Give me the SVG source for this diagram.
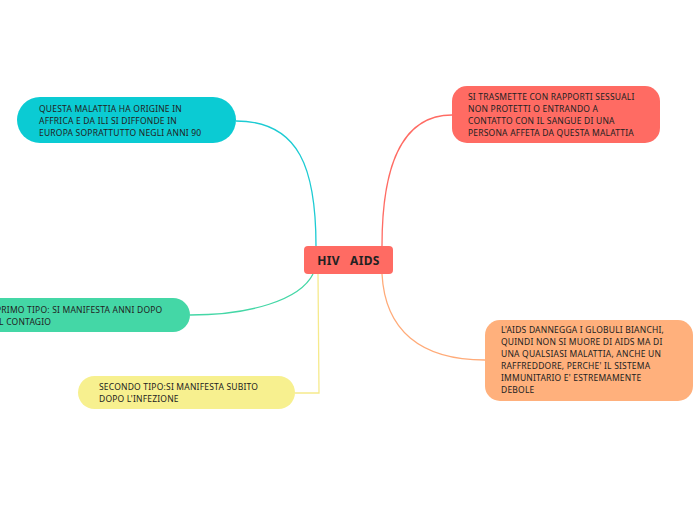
<svg xmlns="http://www.w3.org/2000/svg" width="696" height="520" viewBox="0 0 696 520">
<style>
text{font-family:"Noto Sans","Open Sans",sans-serif;font-size:8.5px;letter-spacing:0.2px;fill:#222}
.c{fill:none;stroke-width:1.3}
.t{font-size:12px;font-weight:bold;fill:#222;letter-spacing:0.3px}
</style>
<rect width="696" height="520" fill="#fff"/>
<g id="connectors">
<path class="c" stroke="#1ccbd3" d="M316,246 C316,170 300,121 236,121"/>
<path class="c" stroke="#ff6b63" d="M382,246 C382,170 400,115 452,115"/>
<path class="c" stroke="#ffab79" d="M382,274 C385,330 420,360 485,360"/>
<path class="c" stroke="#44d7a6" d="M313,274 C300,300 250,315 190,315"/>
<path class="c" stroke="#f6ea8c" d="M318,274 L319,393 L295,393"/>
</g>
<g id="center"><rect x="304" y="246" width="89" height="28" rx="4" fill="#ff6b63"/><text class="t" x="348.5" y="265" text-anchor="middle" xml:space="preserve">HIV   AIDS</text></g>
<g id="n1"><rect x="17" y="97" width="219" height="46" rx="23" fill="#0bcbd3"/>
<text x="39" y="112">QUESTA MALATTIA HA ORIGINE IN</text><text x="39" y="124">AFFRICA E DA ILI SI DIFFONDE IN</text><text x="39" y="136">EUROPA SOPRATTUTTO NEGLI ANNI 90</text></g>
<g id="n2"><rect x="452" y="86" width="208" height="57" rx="15" fill="#ff6b63"/>
<text x="468" y="100">SI TRASMETTE CON RAPPORTI SESSUALI</text><text x="468" y="112">NON PROTETTI O ENTRANDO A</text><text x="468" y="124">CONTATTO CON IL SANGUE DI UNA</text><text x="468" y="136">PERSONA AFFETA DA QUESTA MALATTIA</text></g>
<g id="n3"><rect x="485" y="320" width="208" height="81" rx="15" fill="#ffb07c"/>
<text x="501" y="333">L'AIDS DANNEGGA I GLOBULI BIANCHI,</text><text x="501" y="345">QUINDI NON SI MUORE DI AIDS MA DI</text><text x="501" y="357">UNA QUALSIASI MALATTIA, ANCHE UN</text><text x="501" y="369">RAFFREDDORE, PERCHE' IL SISTEMA</text><text x="501" y="381">IMMUNITARIO E' ESTREMAMENTE</text><text x="501" y="393">DEBOLE</text></g>
<g id="n4"><rect x="-40" y="298" width="230" height="34" rx="17" fill="#44d7a6"/>
<text x="-4" y="313">PRIMO TIPO: SI MANIFESTA ANNI DOPO</text><text x="-4" y="325">IL CONTAGIO</text></g>
<g id="n5"><rect x="78" y="376" width="217" height="33" rx="16.5" fill="#f7f08f"/>
<text x="99" y="390">SECONDO TIPO:SI MANIFESTA SUBITO</text><text x="99" y="402">DOPO L'INFEZIONE</text></g>
</svg>
